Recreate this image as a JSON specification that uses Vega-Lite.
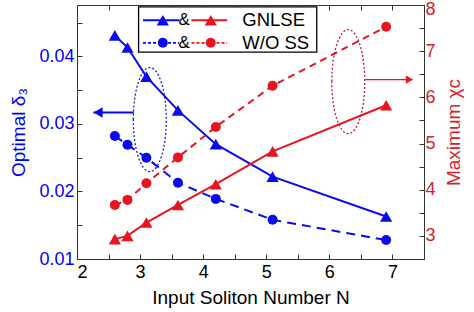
{
  "$schema": "https://vega.github.io/schema/vega-lite/v6.json",
  "width": 347,
  "height": 254,
  "autosize": {"type": "none"},
  "padding": {"left": 77, "top": 5, "right": 50, "bottom": 53},
  "background": "white",
  "config": {
    "view": {"stroke": "#333", "strokeWidth": 1},
    "axis": {
      "labelFont": "Liberation Sans",
      "titleFont": "Liberation Sans",
      "labelFontSize": 18,
      "titleFontSize": 19,
      "titleFontWeight": "normal",
      "tickSize": -5,
      "tickColor": "#333",
      "domainColor": "#333",
      "grid": false,
      "labelPadding": 4
    },
    "text": {"font": "Liberation Sans"}
  },
  "datasets": {
    "series": [
      {"N": 2.6, "v": 0.0431, "q": "delta", "m": "GNLSE"},
      {"N": 2.8, "v": 0.0413, "q": "delta", "m": "GNLSE"},
      {"N": 3.1, "v": 0.0370, "q": "delta", "m": "GNLSE"},
      {"N": 3.6, "v": 0.0320, "q": "delta", "m": "GNLSE"},
      {"N": 4.2, "v": 0.0270, "q": "delta", "m": "GNLSE"},
      {"N": 5.1, "v": 0.0222, "q": "delta", "m": "GNLSE"},
      {"N": 6.9, "v": 0.0163, "q": "delta", "m": "GNLSE"},
      {"N": 2.6, "v": 0.0282, "q": "delta", "m": "W/O SS"},
      {"N": 2.8, "v": 0.0269, "q": "delta", "m": "W/O SS"},
      {"N": 3.1, "v": 0.0250, "q": "delta", "m": "W/O SS"},
      {"N": 3.6, "v": 0.0213, "q": "delta", "m": "W/O SS"},
      {"N": 4.2, "v": 0.0189, "q": "delta", "m": "W/O SS"},
      {"N": 5.1, "v": 0.0158, "q": "delta", "m": "W/O SS"},
      {"N": 6.9, "v": 0.0128, "q": "delta", "m": "W/O SS"},
      {"N": 2.6, "v": 2.93, "q": "chi", "m": "GNLSE"},
      {"N": 2.8, "v": 3.00, "q": "chi", "m": "GNLSE"},
      {"N": 3.1, "v": 3.29, "q": "chi", "m": "GNLSE"},
      {"N": 3.6, "v": 3.67, "q": "chi", "m": "GNLSE"},
      {"N": 4.2, "v": 4.12, "q": "chi", "m": "GNLSE"},
      {"N": 5.1, "v": 4.83, "q": "chi", "m": "GNLSE"},
      {"N": 6.9, "v": 5.83, "q": "chi", "m": "GNLSE"},
      {"N": 2.6, "v": 3.67, "q": "chi", "m": "W/O SS"},
      {"N": 2.8, "v": 3.78, "q": "chi", "m": "W/O SS"},
      {"N": 3.1, "v": 4.14, "q": "chi", "m": "W/O SS"},
      {"N": 3.6, "v": 4.70, "q": "chi", "m": "W/O SS"},
      {"N": 4.2, "v": 5.36, "q": "chi", "m": "W/O SS"},
      {"N": 5.1, "v": 6.25, "q": "chi", "m": "W/O SS"},
      {"N": 6.9, "v": 7.53, "q": "chi", "m": "W/O SS"}
    ],
    "legendBox": [{"N": 2.976, "N2": 5.80, "v": 0.04733, "v2": 0.04061}],
    "legendLines": [
      {"N": 3.046, "N2": 3.62, "v": 0.04535, "c": "blue", "row": "GNLSE"},
      {"N": 3.815, "N2": 4.38, "v": 0.04535, "c": "red", "row": "GNLSE"},
      {"N": 3.046, "N2": 3.62, "v": 0.0420, "c": "blue", "row": "W/O SS"},
      {"N": 3.815, "N2": 4.38, "v": 0.0420, "c": "red", "row": "W/O SS"}
    ],
    "legendMarks": [
      {"N": 3.36, "v": 0.04535, "c": "blue", "row": "GNLSE"},
      {"N": 4.12, "v": 0.04535, "c": "red", "row": "GNLSE"},
      {"N": 3.36, "v": 0.0420, "c": "blue", "row": "W/O SS"},
      {"N": 4.12, "v": 0.0420, "c": "red", "row": "W/O SS"}
    ],
    "legendText": [
      {"N": 3.70, "v": 0.04535, "t": "&", "a": "amp"},
      {"N": 3.70, "v": 0.0420, "t": "&", "a": "amp"},
      {"N": 4.62, "v": 0.04535, "t": "GNLSE", "a": "lab"},
      {"N": 4.62, "v": 0.0420, "t": "W/O SS", "a": "lab"}
    ],
    "blueNote": [{"N": 3.154, "v": 0.03064}],
    "blueArrow": [{"N": 2.26, "N2": 2.9, "v": 0.03167, "h": 2.334}],
    "redNote": [{"N": 6.3, "v": 6.34}],
    "redArrow": [{"N": 6.57, "N2": 7.25, "v": 6.385, "h": 7.27}]
  },
  "resolve": {"scale": {"y": "independent"}, "axis": {"x": "independent"}},
  "layer": [
    {
      "encoding": {
        "x": {
          "field": "N", "type": "quantitative",
          "scale": {"domain": [2, 7.5], "nice": false, "zero": false},
          "axis": {
            "orient": "bottom",
            "title": "Input Soliton Number N",
            "titleColor": "black",
            "labelColor": "black",
            "values": [2, 2.5, 3, 3.5, 4, 4.5, 5, 5.5, 6, 6.5, 7, 7.5],
            "labelExpr": "datum.value % 1 === 0 ? format(datum.value, 'd') : ''",
            "labelPadding": 9,
            "titlePadding": 7
          }
        },
        "y": {
          "field": "v", "type": "quantitative",
          "scale": {"domain": [0.01, 0.0476], "nice": false, "zero": false},
          "axis": {
            "orient": "left",
            "title": "Optimal δ₃",
            "titleColor": "#0000ff",
            "labelColor": "#0000ff",
            "values": [0.01, 0.015, 0.02, 0.025, 0.03, 0.035, 0.04, 0.045],
            "labelExpr": "abs(datum.value * 100 - round(datum.value * 100)) < 0.001 ? format(datum.value, '.2f') : ''",
            "labelPadding": 8,
            "titlePadding": 10
          }
        }
      },
      "layer": [
        {
          "data": {"name": "series"},
          "transform": [{"filter": "datum.q === 'delta' && datum.m === 'GNLSE'"}],
          "mark": {"type": "line", "color": "#0a0aee", "strokeWidth": 2}
        },
        {
          "data": {"name": "series"},
          "transform": [{"filter": "datum.q === 'delta' && datum.m === 'GNLSE'"}],
          "mark": {"type": "point", "shape": "triangle-up", "filled": true, "opacity": 1, "color": "#0a0aee", "size": 150}
        },
        {
          "data": {"name": "series"},
          "transform": [{"filter": "datum.q === 'delta' && datum.m === 'W/O SS'"}],
          "mark": {"type": "line", "color": "#0a0aee", "strokeWidth": 2, "strokeDash": [9, 6]}
        },
        {
          "data": {"name": "series"},
          "transform": [{"filter": "datum.q === 'delta' && datum.m === 'W/O SS'"}],
          "mark": {"type": "point", "shape": "circle", "filled": true, "opacity": 1, "color": "#0a0aee", "size": 100}
        },
        {
          "data": {"name": "blueNote"},
          "mark": {"type": "point", "shape": "M -0.317 0 A 0.317 1 0 1 1 0.317 0 A 0.317 1 0 1 1 -0.317 0 Z", "size": 10816, "filled": false, "opacity": 1, "color": "#1a1ad0", "strokeWidth": 1.3, "strokeDash": [2, 2]}
        },
        {
          "data": {"name": "blueArrow"},
          "mark": {"type": "rule", "color": "#0a0aee", "strokeWidth": 2},
          "encoding": {"x2": {"field": "N2"}}
        },
        {
          "data": {"name": "blueArrow"},
          "mark": {"type": "point", "shape": "triangle-left", "filled": true, "opacity": 1, "color": "#0a0aee", "size": 110},
          "encoding": {"x": {"field": "h", "type": "quantitative"}}
        },
        {
          "data": {"name": "legendBox"},
          "mark": {"type": "rect", "fill": "white", "stroke": "black", "strokeWidth": 1.3},
          "encoding": {"x2": {"field": "N2"}, "y2": {"field": "v2"}}
        },
        {
          "data": {"name": "legendLines"},
          "transform": [{"filter": "datum.row === 'GNLSE'"}],
          "mark": {"type": "rule", "strokeWidth": 2},
          "encoding": {
            "x2": {"field": "N2"},
            "color": {"field": "c", "type": "nominal", "scale": {"domain": ["blue", "red"], "range": ["#0a0aee", "#e8141e"]}, "legend": null}
          }
        },
        {
          "data": {"name": "legendLines"},
          "transform": [{"filter": "datum.row === 'W/O SS'"}],
          "mark": {"type": "rule", "strokeWidth": 1.8, "strokeDash": [3, 2]},
          "encoding": {
            "x2": {"field": "N2"},
            "color": {"field": "c", "type": "nominal", "scale": {"domain": ["blue", "red"], "range": ["#0a0aee", "#e8141e"]}, "legend": null}
          }
        },
        {
          "data": {"name": "legendMarks"},
          "transform": [{"filter": "datum.row === 'GNLSE'"}],
          "mark": {"type": "point", "shape": "triangle-up", "filled": true, "opacity": 1, "size": 150},
          "encoding": {
            "color": {"field": "c", "type": "nominal", "scale": {"domain": ["blue", "red"], "range": ["#0a0aee", "#e8141e"]}, "legend": null}
          }
        },
        {
          "data": {"name": "legendMarks"},
          "transform": [{"filter": "datum.row === 'W/O SS'"}],
          "mark": {"type": "point", "shape": "circle", "filled": true, "opacity": 1, "size": 100},
          "encoding": {
            "color": {"field": "c", "type": "nominal", "scale": {"domain": ["blue", "red"], "range": ["#0a0aee", "#e8141e"]}, "legend": null}
          }
        },
        {
          "data": {"name": "legendText"},
          "transform": [{"filter": "datum.a === 'amp'"}],
          "mark": {"type": "text", "fontSize": 17, "color": "black", "align": "center", "baseline": "middle", "font": "Liberation Sans"},
          "encoding": {"text": {"field": "t"}}
        },
        {
          "data": {"name": "legendText"},
          "transform": [{"filter": "datum.a === 'lab'"}],
          "mark": {"type": "text", "fontSize": 18.5, "color": "black", "align": "left", "baseline": "middle", "font": "Liberation Sans"},
          "encoding": {"text": {"field": "t"}}
        }
      ]
    },
    {
      "encoding": {
        "x": {
          "field": "N", "type": "quantitative",
          "scale": {"domain": [2, 7.5], "nice": false, "zero": false},
          "axis": {
            "orient": "top",
            "title": null,
            "labels": false,
            "values": [2, 2.5, 3, 3.5, 4, 4.5, 5, 5.5, 6, 6.5, 7, 7.5]
          }
        },
        "y": {
          "field": "v", "type": "quantitative",
          "scale": {"domain": [2.5, 8], "nice": false, "zero": false},
          "axis": {
            "orient": "right",
            "title": "Maximum χc",
            "titleColor": "#d8202a",
            "labelColor": "#d8202a",
            "titleAngle": 270,
            "titleBaseline": "top",
            "values": [3, 3.5, 4, 4.5, 5, 5.5, 6, 6.5, 7, 7.5, 8],
            "labelExpr": "datum.value % 1 === 0 ? format(datum.value, 'd') : ''",
            "labelOffset": {"condition": {"test": "datum.value === 8", "value": 4}, "value": 0},
            "labelPadding": 6,
            "titlePadding": 9
          }
        }
      },
      "layer": [
        {
          "data": {"name": "series"},
          "transform": [{"filter": "datum.q === 'chi' && datum.m === 'GNLSE'"}],
          "mark": {"type": "line", "color": "#e8141e", "strokeWidth": 2}
        },
        {
          "data": {"name": "series"},
          "transform": [{"filter": "datum.q === 'chi' && datum.m === 'GNLSE'"}],
          "mark": {"type": "point", "shape": "triangle-up", "filled": true, "opacity": 1, "color": "#e8141e", "size": 150}
        },
        {
          "data": {"name": "series"},
          "transform": [{"filter": "datum.q === 'chi' && datum.m === 'W/O SS'"}],
          "mark": {"type": "line", "color": "#e8141e", "strokeWidth": 2, "strokeDash": [7, 5]}
        },
        {
          "data": {"name": "series"},
          "transform": [{"filter": "datum.q === 'chi' && datum.m === 'W/O SS'"}],
          "mark": {"type": "point", "shape": "circle", "filled": true, "opacity": 1, "color": "#e8141e", "size": 100}
        },
        {
          "data": {"name": "redNote"},
          "mark": {"type": "point", "shape": "M -0.317 0 A 0.317 1 0 1 1 0.317 0 A 0.317 1 0 1 1 -0.317 0 Z", "size": 10816, "filled": false, "opacity": 1, "color": "#b02040", "strokeWidth": 1.3, "strokeDash": [2, 2]}
        },
        {
          "data": {"name": "redArrow"},
          "mark": {"type": "rule", "color": "#e8141e", "strokeWidth": 1.2},
          "encoding": {"x2": {"field": "N2"}}
        },
        {
          "data": {"name": "redArrow"},
          "mark": {"type": "point", "shape": "triangle-right", "filled": true, "opacity": 1, "color": "#e8141e", "size": 70},
          "encoding": {"x": {"field": "h", "type": "quantitative"}}
        }
      ]
    }
  ]
}
